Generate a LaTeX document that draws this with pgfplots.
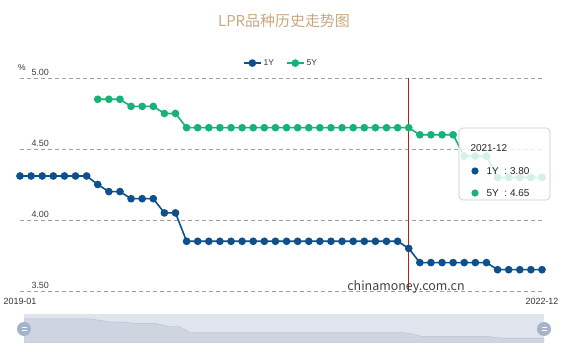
\documentclass[border=0pt]{standalone}
\usepackage{pgfplots}
\pgfplotsset{compat=1.18}
\usepackage{fontspec}
\setmainfont{Liberation Sans}
\newfontfamily\cjk{Noto Sans CJK SC}
\definecolor{oneY}{RGB}{14,80,140}
\definecolor{fiveY}{RGB}{22,178,120}
\definecolor{titlec}{RGB}{201,168,128}
\definecolor{gridc}{RGB}{160,160,160}
\definecolor{bandc}{RGB}{223,228,237}
\definecolor{areac}{RGB}{206,213,224}
\definecolor{handlec}{RGB}{164,178,202}
\definecolor{redline}{RGB}{185,30,30}
\pgfplotstableread{
x y
0 4.31
1 4.31
2 4.31
3 4.31
4 4.31
5 4.31
6 4.31
7 4.25
8 4.20
9 4.20
10 4.15
11 4.15
12 4.15
13 4.05
14 4.05
15 3.85
16 3.85
17 3.85
18 3.85
19 3.85
20 3.85
21 3.85
22 3.85
23 3.85
24 3.85
25 3.85
26 3.85
27 3.85
28 3.85
29 3.85
30 3.85
31 3.85
32 3.85
33 3.85
34 3.85
35 3.80
36 3.70
37 3.70
38 3.70
39 3.70
40 3.70
41 3.70
42 3.70
43 3.65
44 3.65
45 3.65
46 3.65
47 3.65
}\oneYdata
\pgfplotstableread{
x y
7 4.85
8 4.85
9 4.85
10 4.80
11 4.80
12 4.80
13 4.75
14 4.75
15 4.65
16 4.65
17 4.65
18 4.65
19 4.65
20 4.65
21 4.65
22 4.65
23 4.65
24 4.65
25 4.65
26 4.65
27 4.65
28 4.65
29 4.65
30 4.65
31 4.65
32 4.65
33 4.65
34 4.65
35 4.65
36 4.60
37 4.60
38 4.60
39 4.60
40 4.45
41 4.45
42 4.45
43 4.30
44 4.30
45 4.30
46 4.30
47 4.30
}\fiveYdata
\begin{document}
\begin{tikzpicture}
\useasboundingbox (0,0) rectangle (569bp,352bp);
% title
\node[font=\cjk\fontsize{15}{18}\selectfont, text=titlec] at (284bp,331bp) {LPR品种历史走势图};
% main axis
\begin{axis}[
  at={(20bp,61bp)}, anchor=south west,
  scale only axis, width=522bp, height=213bp,
  xmin=0, xmax=47, ymin=3.5, ymax=5.0,
  axis line style={draw=none},
  major tick length=0pt,
  ytick={3.5,4,4.5,5},
  yticklabels={3.50,4.00,4.50,5.00},
  yticklabel style={anchor=south west, xshift=8bp, yshift=-1bp, font=\fontsize{9}{10}\selectfont, text=black!75},
  xtick={0,47},
  xticklabels={2019-01,2022-12},
  xticklabel style={yshift=-4bp, font=\fontsize{9}{10}\selectfont, text=black!80},
  ymajorgrids,
  grid style={gridc, line width=0.7bp, dash pattern=on 4bp off 3bp},
  legend style={at={(axis description cs:0.5,1.07)}, anchor=center, draw=none, fill=none,
    font=\fontsize{8.5}{10}\selectfont, text=black!80, legend columns=-1,
    /tikz/every even column/.append style={column sep=10bp}},
  clip=false,
]
\addplot[oneY, line width=1.6bp, mark=*, mark size=3bp, mark options={fill=oneY, draw=oneY}] table[x=x,y=y] {\oneYdata};
\addlegendentry{1Y}
\addplot[fiveY, line width=1.6bp, mark=*, mark size=3bp, mark options={fill=fiveY, draw=fiveY}] table[x=x,y=y] {\fiveYdata};
\addlegendentry{5Y}
\draw[redline, line width=0.8bp] (axis cs:35,5.0) -- (axis cs:35,3.5);
\end{axis}
% percent sign
\node[font=\fontsize{8.5}{10}\selectfont, text=black!80] at (22bp,284bp) {\%};
% watermark
\node[font=\cjk\fontsize{12.5}{14}\selectfont, text=black!75] at (406bp,65bp) {chinamoney.com.cn};
% tooltip
\draw[draw=black!22, fill=white, fill opacity=0.82, rounded corners=4bp, line width=0.6bp] (459bp,152bp) rectangle (550bp,224bp);
\node[anchor=west, font=\fontsize{10}{12}\selectfont, text=black!85] at (467bp,204bp) {2021-12};
\fill[oneY] (475bp,181bp) circle (3.6bp);
\node[anchor=west, font=\fontsize{10}{12}\selectfont, text=black!85] at (483bp,181bp) {1Y\hspace{3bp} : 3.80};
\fill[fiveY] (475bp,159bp) circle (3.6bp);
\node[anchor=west, font=\fontsize{10}{12}\selectfont, text=black!85] at (483bp,159bp) {5Y\hspace{3bp} : 4.65};
% slider
\begin{axis}[
  at={(24bp,9bp)}, anchor=south west,
  scale only axis, width=520bp, height=29bp,
  xmin=0, xmax=47, ymin=3.48, ymax=4.48,
  hide axis,
]
\fill[bandc] (axis cs:0,3.48) rectangle (axis cs:47,4.48);
\addplot[draw=areac!90!black, line width=0.4bp, fill=areac] table[x=x,y=y] {\oneYdata} \closedcycle;
\end{axis}
\foreach \hx in {24bp,544bp}{
  \fill[handlec] (\hx,23bp) circle (7bp);
  \draw[white, line width=0.6bp] ([xshift=-2.5bp,yshift=1.2bp]\hx,23bp) -- ++(5bp,0);
  \draw[white, line width=0.6bp] ([xshift=-2.5bp,yshift=-1.2bp]\hx,23bp) -- ++(5bp,0);
}
\end{tikzpicture}
\end{document}
